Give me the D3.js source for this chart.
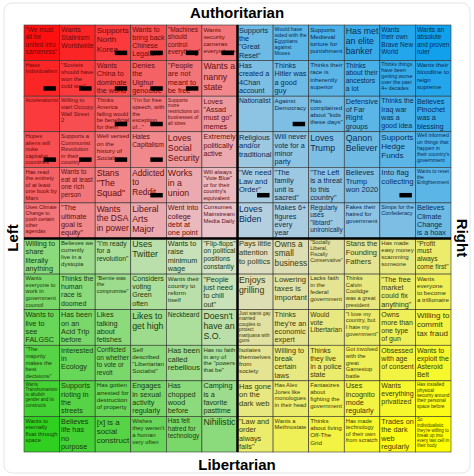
<!DOCTYPE html>
<html><head><meta charset="utf-8">
<script src="https://cdn.jsdelivr.net/npm/d3@7"></script>
<style>body{margin:0;background:#fff}</style>
</head><body><div id="chart"></div>
<script>
// --- Data ---
const topLeft = [
  ["\"We must all be united into sameness\"", "Wants Stalinism Worldwide", "Supports North Korea", "Wants to bring back Chinese Legalism", "\"Machines should control everything\"", "Wants security cameras everywhere"],
  ["Hates Individualism", "\"Soviets should have won the cold war\"", "Wants China to dominate the world", "Denies the Uighur genocide", "\"People are not meant to be free\"", "Wants a nanny state"],
  ["Accelerationist", "Willing to start Occupy Wall Street 2", "Thinks America failing would be beneficial for them", "\"I'm for free speech, with the exception of...\"", "Supports more restrictions on businesses of all sizes", "Loves \"Assad must go\" memes"],
  ["Hopes aliens will nuke capitalist countries", "Supports a Communist Revolution in their country", "Well versed on the history of Socialism", "Hates Capitalism", "Loves Social Security", "Extremely politically active"],
  ["Has read the entirety of at least one book by Marx", "Wants to eat at least one rich person", "Stans \"The Squad\"", "Addicted to Reddit", "Works in a union", "Will always \"Vote Blue\" or for their country's equivalent"],
  ["Uses Climate Change to push certain other agendas", "\"The ultimate goal is equity\"", "Wants the DSA in power", "Liberal Arts Major", "Went into college debt at one point", "Consumes Mainstream Media Daily"]
];
const topRight = [
  ["Supports the \"Great Reset\"", "Would have sided with the Egyptians against Moses", "Supports Medieval torture for punishment", "Has met an elite banker", "Wants their own Brave New World", "Wants an absolute and proven ruler"],
  ["Has created a 4Chan account", "Thinks Hitler was a good guy", "Thinks their race is inherently superior", "Thinks about their ancestors a lot", "Thinks things have been getting worse over the past 4+ decades", "Wants their bloodline to reign supreme"],
  ["Nationalist", "Against Democracy", "Has complained about \"kids these days\"", "Defensive of Far Right groups", "Thinks the Iraq war was a good idea", "Believes Pinochet was a blessing"],
  ["Religious and/or traditional", "Will never vote for a minor party", "Loves Trump", "Qanon Believer", "Supports Hedge Funds", "Well informed on things that happen in their country's government"],
  ["\"We need Law and Order\"", "\"The family unit is sacred\"", "\"The Left is a threat to this country\"", "Believes Trump won 2020", "Into flag collecting", "Wants to reset the Enlightenment"],
  ["Loves Biden", "Makes 6+ figures every year", "Regularly uses \"libtard\" unironically", "Fakes their hatred for government", "Simps for the Confederacy", "Believes Climate Change is a hoax"]
];
const bottomLeft = [
  ["Willing to share literally anything", "Believes we currently live in a dystopia", "\"I'm ready for a revolution\"", "Uses Twitter", "Wants to raise minimum wage", "\"Flip-flops\" on political positions constantly"],
  ["Wants everyone to work in government council", "Thinks the human race is doomed", "\"Bernie was the compromise\"", "Considers voting Green often", "Wants their country to reform itself", "\"People just need to chill out\""],
  ["Wants to live to see FALGSC", "Has been on an Acid Trip before", "Likes talking about fetishes", "Likes to get high", "Neckbeard", "Doesn't have an S.O."],
  ["\"The majority makes the best decisions\"", "Interested in Ecology", "Conflicted on whether to vote or revolt", "Self described \"Libertarian Socialist\"", "Has been called rebellious", "Has no faith in any of the \"powers that be\""],
  ["Wants Transhumanism to abolish gender and its constructs", "Supports rioting in the streets", "Has gotten arrested for destruction of property", "Engages in sexual activity regularly", "Has chopped wood before", "Camping is a favorite pasttime"],
  ["Wants to eternally float through space", "Believes life has no purpose", "[x] is a social construct", "Wishes they weren't a human very often", "Has felt hatred for technology", "Nihilistic"]
];
const bottomRight = [
  ["Pays little attention to politics", "Owns a small business", "\"Socially Liberal, Fiscally Conservative\"", "Stans the Founding Fathers", "Has made easy money scamming someone", "\"Profit must always come first\""],
  ["Enjoys grilling", "Lowering taxes is important", "Lacks faith in the federal government", "Thinks Calvin Coolidge was a great president", "\"The free market could fix anything\"", "Wants everyone to become a trillionaire"],
  ["Just wants gay married couples to protect marijuana with guns", "Thinks they're an economic expert", "Would vote Libertarian", "\"I love my country, but I hate my government\"", "Owns more than one type of gun", "Willing to commit tax fraud"],
  ["Isolates themselves from society", "Willing to break certain laws", "Thinks they live in a police state", "Got involved with the great Gamestop battle", "Obsessed with age of consent", "Wants to exploit the Asteroid Belt"],
  ["Has gone on the dark web", "Has Alex Jones like monologues in their head", "Fantasizes about fighting the government", "Uses incognito mode regularly", "Wants everything privatized", "Has installed physical security around their personal space before"],
  ["\"Law and order always fails\"", "Wants a Methnostate", "Thinks about living Off-The Grid", "Has made technology of their own from scratch", "Trades on the dark web regularly", "So individualistic they're willing to break up into every last cell in their body"]
];
// redacted cells [row, col]
const redacted = [[0,2],[0,3],[0,4],[0,5],[1,0],[1,1],[1,2],[1,3],[1,4],[2,2],[2,3],[2,7],[3,0],[3,1],[3,2],[3,3],[4,3],[4,6],[4,10]];
const axisLabels = {top: "Authoritarian", bottom: "Libertarian", left: "Left", right: "Right"};

// --- Layout ---
const W = 474, H = 476;
const x0 = 24, y0 = 25, gridSize = 427, n = 12;
const cells = [];
for (let r = 0; r < n; r++) for (let c = 0; c < n; c++) {
  const half = r < 6 ? (c < 6 ? topLeft : topRight) : (c < 6 ? bottomLeft : bottomRight);
  cells.push({r, c, text: half[r % 6][c % 6], q: (r < 6 ? 0 : 2) + (c < 6 ? 0 : 1)});
}

const x = d3.scaleBand().domain(d3.range(n)).range([x0, x0 + gridSize]);
const y = d3.scaleBand().domain(d3.range(n)).range([y0, y0 + gridSize]);

const quadColors = [
  {strong: "#ff1010", pale: "#e8c4ca", text: "#6a0a0a"},
  {strong: "#10a0ec", pale: "#b4cfe0", text: "#0a2c55"},
  {strong: "#30d020", pale: "#d2e2c2", text: "#1a3a0a"},
  {strong: "#ffff00", pale: "#dcdcc0", text: "#3a3a0a"}
];
function cellFill(d) {
  const dx = d.c < 6 ? 5 - d.c : d.c - 6;
  const dy = d.r < 6 ? 5 - d.r : d.r - 6;
  const t = (dx + dy) / 10;
  const qc = quadColors[d.q];
  return d3.interpolateRgb(qc.pale, qc.strong)(Math.pow(t, 1.2));
}

const svg = d3.select("#chart").append("svg").attr("width", W).attr("height", H);
svg.append("rect").attr("x", 4).attr("y", 3).attr("width", W - 8).attr("height", H - 6)
  .attr("rx", 8).attr("fill", "#fff").attr("stroke", "#e6e6e6");

const font = "'Liberation Sans', Arial, sans-serif";
const ctx = document.createElement("canvas").getContext("2d");
function wrap(text, size, maxW) {
  ctx.font = size + "px " + font;
  const words = text.split(" ");
  const lines = [];
  let cur = "";
  for (const w of words) {
    const t = cur ? cur + " " + w : w;
    if (ctx.measureText(t).width <= maxW || !cur) cur = t; else { lines.push(cur); cur = w; }
  }
  lines.push(cur);
  const widest = d3.max(lines, l => ctx.measureText(l).width);
  return {lines, widest};
}
function fit(text, bw, bh) {
  for (let s = 8.75; s >= 3.5; s -= 0.25) {
    const res = wrap(text, s, bw - 3);
    if (res.widest <= bw - 3 && res.lines.length * s * 1.15 <= bh - 2) return {size: s, lines: res.lines};
  }
  return {size: 3.5, lines: wrap(text, 3.5, bw - 3).lines};
}

const g = svg.selectAll("g.cell").data(cells).enter().append("g").attr("class", "cell");
g.append("rect")
  .attr("x", d => x(d.c)).attr("y", d => y(d.r))
  .attr("width", x.bandwidth()).attr("height", y.bandwidth())
  .attr("fill", cellFill).attr("stroke", "#333").attr("stroke-width", 0.6);
g.each(function(d) {
  const f = fit(d.text, x.bandwidth(), y.bandwidth());
  const t = d3.select(this).append("text")
    .attr("font-family", font).attr("font-size", f.size)
    .attr("fill", quadColors[d.q].text);
  f.lines.forEach((l, i) => {
    t.append("tspan").attr("x", x(d.c) + 1.5)
      .attr("y", y(d.r) + 1 + f.size * 0.9 + i * f.size * 1.15).text(l);
  });
});

// redaction boxes
svg.selectAll("rect.redact").data(redacted).enter().append("rect")
  .attr("class", "redact")
  .attr("x", d => x(d[1]) + x.bandwidth() * 0.55)
  .attr("y", d => y(d[0]) + y.bandwidth() * 0.72)
  .attr("width", x.bandwidth() * 0.35).attr("height", 4.5)
  .attr("fill", "#000");

// center lines
svg.append("line").attr("x1", x(6)).attr("x2", x(6)).attr("y1", y0).attr("y2", y0 + gridSize)
  .attr("stroke", "#000").attr("stroke-width", 2.5);
svg.append("line").attr("y1", y(6)).attr("y2", y(6)).attr("x1", x0).attr("x2", x0 + gridSize)
  .attr("stroke", "#000").attr("stroke-width", 2.5);

const lab = {"font-family": font, "font-weight": "bold", "font-size": 15, "text-anchor": "middle", fill: "#000"};
function label(txt, tx, ty, rot) {
  const t = svg.append("text").attr("transform", `translate(${tx},${ty}) rotate(${rot})`).text(txt);
  Object.entries(lab).forEach(([k, v]) => t.attr(k, v));
}
label(axisLabels.top, 237, 18, 0);
label(axisLabels.bottom, 237, 470, 0);
label(axisLabels.left, 18, 238, -90);
label(axisLabels.right, 457, 238, 90);
</script></body></html>
